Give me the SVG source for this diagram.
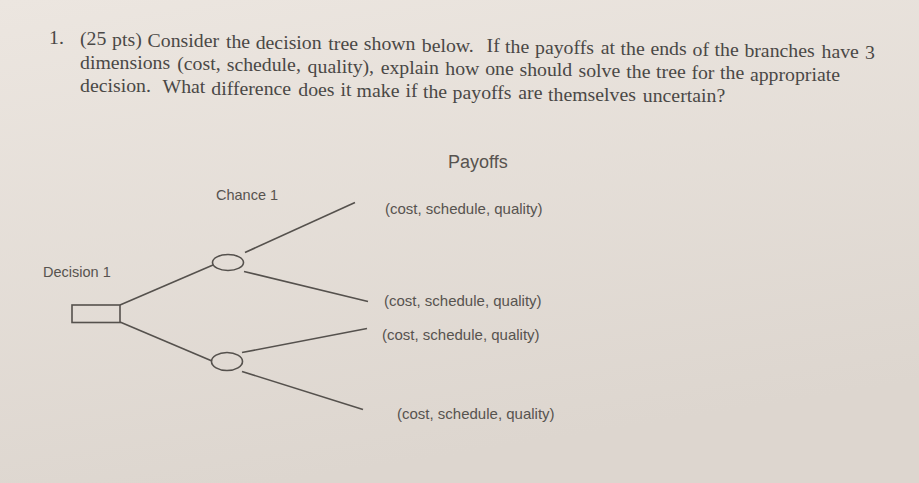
<svg xmlns="http://www.w3.org/2000/svg" width="919" height="483" viewBox="0 0 919 483">
  <defs>
    <linearGradient id="paper" x1="0" y1="0" x2="0.3" y2="1">
      <stop offset="0" stop-color="#ece6e0"/>
      <stop offset="1" stop-color="#ddd6cf"/>
    </linearGradient>
    <style>
      .q { font-family: "Liberation Serif", "Times New Roman", serif; font-size: 19.8px; fill: #4a4846; }
      .lbl { font-family: "Liberation Sans", Arial, sans-serif; font-size: 14.5px; fill: #57534f; }
      .pay { font-family: "Liberation Sans", Arial, sans-serif; font-size: 15px; fill: #57534f; }
      .ttl { font-family: "Liberation Sans", Arial, sans-serif; font-size: 18px; fill: #57534f; }
      .edge { stroke: #55514d; stroke-width: 1.6; fill: none; }
      .node { stroke: #55514d; stroke-width: 1.6; fill: none; }
    </style>
  </defs>
  <rect x="0" y="0" width="919" height="483" fill="url(#paper)"/>

  <g id="question">
    <text class="q" x="49" y="44">1.</text>
    <text class="q" x="80" y="45.2">(25</text>
    <text class="q" x="112.1" y="45.8">pts)</text>
    <text class="q" x="147.6" y="46.8">Consider</text>
    <text class="q" x="225.9" y="47.8">the</text>
    <text class="q" x="255.7" y="48.7">decision</text>
    <text class="q" x="328.3" y="49.6">tree</text>
    <text class="q" x="363.8" y="50.4">shown</text>
    <text class="q" x="421.8" y="51.5">below.</text>
    <text class="q" x="486.6" y="52.2">If</text>
    <text class="q" x="505.1" y="52.6">the</text>
    <text class="q" x="535" y="53.5">payoffs</text>
    <text class="q" x="600.8" y="54.2">at</text>
    <text class="q" x="620.5" y="54.7">the</text>
    <text class="q" x="650.4" y="55.3">ends</text>
    <text class="q" x="692.6" y="55.9">of</text>
    <text class="q" x="714.6" y="56.3">the</text>
    <text class="q" x="744.4" y="57.3">branches</text>
    <text class="q" x="821.5" y="58.3">have</text>
    <text class="q" x="864.9" y="58.8">3</text>

    <text class="q" x="80" y="68.8">dimensions</text>
    <text class="q" x="177.2" y="70.1">(cost,</text>
    <text class="q" x="226.7" y="71.2">schedule,</text>
    <text class="q" x="307.6" y="72.6">quality),</text>
    <text class="q" x="380.7" y="73.8">explain</text>
    <text class="q" x="445.3" y="74.7">how</text>
    <text class="q" x="485.2" y="75.4">one</text>
    <text class="q" x="519.5" y="76.2">should</text>
    <text class="q" x="578.5" y="77.1">solve</text>
    <text class="q" x="626.3" y="77.8">the</text>
    <text class="q" x="656.1" y="78.3">tree</text>
    <text class="q" x="691.4" y="78.9">for</text>
    <text class="q" x="720.1" y="79.4">the</text>
    <text class="q" x="749.9" y="80.5">appropriate</text>

    <text class="q" x="80" y="92.1">decision.</text>
    <text class="q" x="162.5" y="93.3">What</text>
    <text class="q" x="211.3" y="94.5">difference</text>
    <text class="q" x="298.3" y="95.6">does</text>
    <text class="q" x="340.4" y="96.2">it</text>
    <text class="q" x="356.6" y="96.7">make</text>
    <text class="q" x="405.5" y="97.3">if</text>
    <text class="q" x="422.9" y="97.7">the</text>
    <text class="q" x="452.6" y="98.6">payoffs</text>
    <text class="q" x="518.3" y="99.4">are</text>
    <text class="q" x="548" y="100.5">themselves</text>
    <text class="q" x="642.8" y="102.1">uncertain?</text>
  </g>

  <g id="connectors">
    <line class="edge" x1="120" y1="305" x2="213" y2="265"/>
    <line class="edge" x1="120" y1="322" x2="212" y2="361"/>
    <line class="edge" x1="245" y1="252.5" x2="355" y2="202.5"/>
    <line class="edge" x1="244" y1="271.5" x2="368" y2="301.5"/>
    <line class="edge" x1="242" y1="352.5" x2="367" y2="328.5"/>
    <line class="edge" x1="242" y1="371.5" x2="363" y2="409.5"/>
  </g>

  <g id="decision1">
    <rect class="node" x="72" y="305" width="48" height="17.5"/>
    <text class="lbl" x="43" y="277">Decision 1</text>
  </g>

  <g id="chance1">
    <ellipse class="node" cx="228" cy="262.5" rx="15.5" ry="8"/>
    <text class="lbl" x="216" y="200">Chance 1</text>
  </g>

  <g id="chance2">
    <ellipse class="node" cx="227" cy="361.5" rx="15.5" ry="9"/>
  </g>

  <g id="payoffs">
    <text class="ttl" x="448" y="168">Payoffs</text>
    <text class="pay" x="385" y="213.5">(cost, schedule, quality)</text>
    <text class="pay" x="384" y="305.5">(cost, schedule, quality)</text>
    <text class="pay" x="382" y="340">(cost, schedule, quality)</text>
    <text class="pay" x="397" y="418.5">(cost, schedule, quality)</text>
  </g>
</svg>
